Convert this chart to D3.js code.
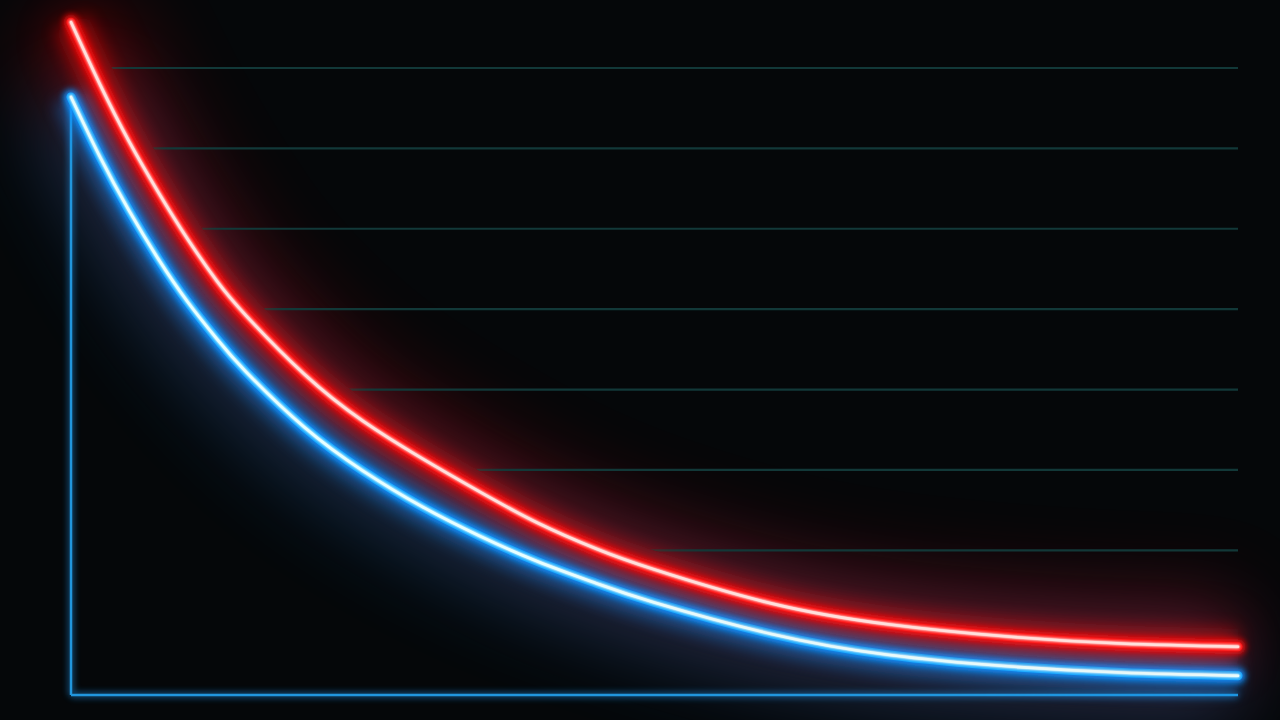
<!DOCTYPE html>
<html><head><meta charset="utf-8">
<script src="https://cdn.jsdelivr.net/npm/d3@7"></script>
<style>html,body{margin:0;padding:0;background:#050709;overflow:hidden}</style>
</head><body>
<svg id="chart" width="1280" height="720"></svg>
<script>
const timeValues = [0,2.5,5,7.5,10,12.5,15,20,25,30,35,40,45,50,60,70,80,90,100];
const redValues  = [8.57,7.79,7.08,6.45,5.87,5.35,4.92,4.19,3.61,3.15,2.73,2.34,2.02,1.76,1.34,1.08,0.93,0.84,0.80];
const blueValues = [7.64,6.89,6.22,5.62,5.09,4.63,4.22,3.53,2.99,2.55,2.18,1.86,1.59,1.35,0.96,0.70,0.56,0.48,0.44];
const gridValues = [2,3,4,5,6,7,8];

const W = 1280, H = 720;
const svg = d3.select('#chart');
const x = d3.scaleLinear().domain([0,100]).range([71,1238]);
const y = d3.scaleLinear().domain([0.2,8]).range([695,68]);

const redData = timeValues.map((t,i)=>({t, v: redValues[i]}));
const blueData = timeValues.map((t,i)=>({t, v: blueValues[i]}));

const curve = d3.curveNatural;
const line = d3.line().x(d=>x(d.t)).y(d=>y(d.v)).curve(curve);
const areaBelow = d3.area().x(d=>x(d.t)).y0(H).y1(d=>y(d.v)).curve(curve);

const defs = svg.append('defs');
function blur(id, sd){
  defs.append('filter').attr('id',id).attr('filterUnits','userSpaceOnUse')
    .attr('x',-300).attr('y',-300).attr('width',W+600).attr('height',H+600)
    .append('feGaussianBlur').attr('stdDeviation',sd);
}
blur('b40',40); blur('b22',22); blur('b8',8); blur('b3',3); blur('b1',1);

// mask that hides gridlines under / near the red curve
const mask = defs.append('mask').attr('id','gridMask').attr('maskUnits','userSpaceOnUse')
  .attr('x',0).attr('y',0).attr('width',W).attr('height',H);
mask.append('rect').attr('width',W).attr('height',H).attr('fill','white');
mask.append('path').datum(redData).attr('d',areaBelow).attr('fill','black');
mask.append('path').datum(redData).attr('d',line).attr('fill','none')
  .attr('stroke','black').attr('stroke-width',36);

svg.append('rect').attr('width',W).attr('height',H).attr('fill','#050709');

// wide hazes
svg.append('path').datum(redData).attr('d',line).attr('fill','none')
  .attr('stroke','#c00000').attr('stroke-width',100).attr('opacity',0.36).attr('filter','url(#b40)');
svg.append('path').datum(redData).attr('d',line).attr('fill','none')
  .attr('stroke','#c00000').attr('stroke-width',40).attr('opacity',0.34).attr('filter','url(#b22)');
svg.append('path').datum(blueData).attr('d',line).attr('fill','none')
  .attr('stroke','#0070b8').attr('stroke-width',100).attr('opacity',0.32).attr('filter','url(#b40)');

// gridlines
svg.append('g').attr('mask','url(#gridMask)').selectAll('line').data(gridValues).join('line')
  .attr('x1',x(0)).attr('x2',x(100)).attr('y1',d=>y(d)).attr('y2',d=>y(d))
  .attr('stroke','#123838').attr('stroke-width',2.2);

// axes
const axisG = svg.append('g');
function axisLines(g){
  g.append('line').attr('x1',x(0)).attr('x2',x(100)).attr('y1',y(0.2)).attr('y2',y(0.2));
  g.append('line').attr('x1',x(0)).attr('x2',x(0)).attr('y1',y(0.2)).attr('y2',y(blueValues[0]));
}
const axGlow = axisG.append('g').attr('stroke','#1a8ee0').attr('stroke-width',6).attr('opacity',0.5).attr('filter','url(#b3)');
axisLines(axGlow);
const axCore = axisG.append('g').attr('stroke','#2196dd').attr('stroke-width',2.5);
axisLines(axCore);

// neon curves
function neon(data, glow, core, inner){
  svg.append('path').datum(data).attr('d',line).attr('fill','none')
    .attr('stroke',glow).attr('stroke-width',36).attr('opacity',0.4).attr('filter','url(#b8)');
  svg.append('path').datum(data).attr('d',line).attr('fill','none')
    .attr('stroke',glow).attr('stroke-width',15).attr('opacity',0.95).attr('filter','url(#b3)').attr('stroke-linecap','round');
  svg.append('path').datum(data).attr('d',line).attr('fill','none')
    .attr('stroke',core).attr('stroke-width',9).attr('stroke-linecap','round');
  svg.append('path').datum(data).attr('d',line).attr('fill','none')
    .attr('stroke',inner).attr('stroke-width',4).attr('stroke-linecap','round').attr('filter','url(#b1)');
  svg.append('path').datum(data).attr('d',line).attr('fill','none')
    .attr('stroke',inner).attr('stroke-width',2.6).attr('stroke-linecap','round');
}
neon(blueData, '#0a8fff', '#1aaaff', '#e8ffff');
neon(redData, '#ff0a0a', '#ff1a1a', '#ffe0dc');
</script>
</body></html>
